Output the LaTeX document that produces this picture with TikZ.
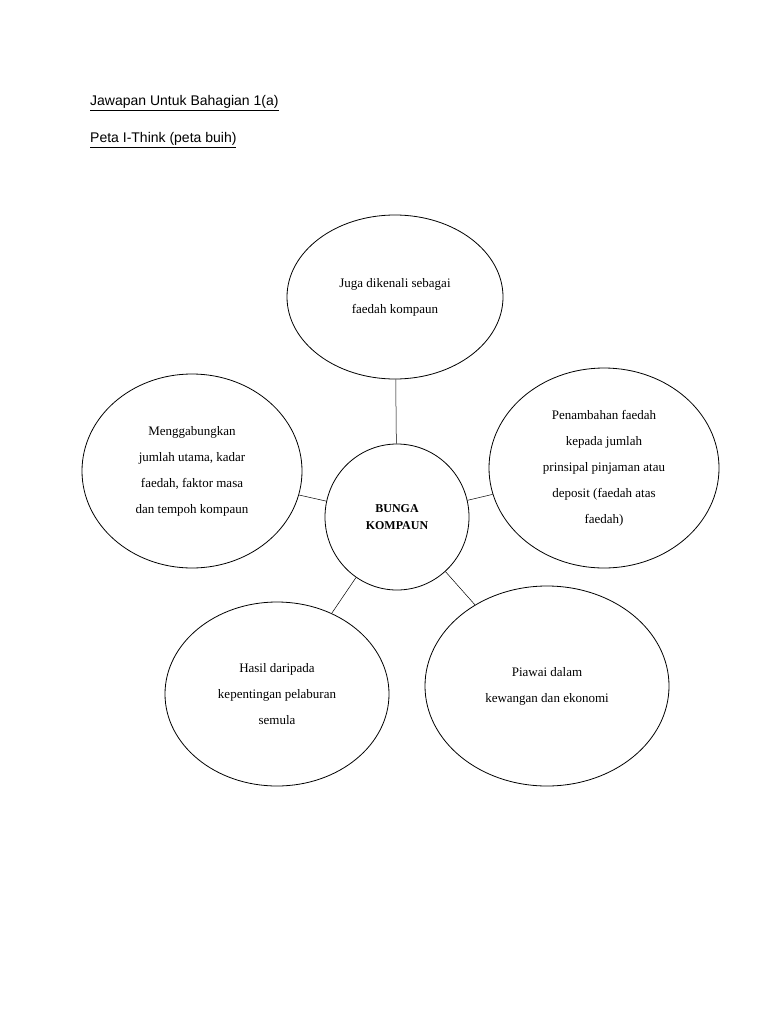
\documentclass[tikz,border=0pt]{standalone}
\usepackage{fontspec}
\setmainfont{Liberation Serif}
\newfontfamily\hd{Liberation Sans}
\usetikzlibrary{shapes.geometric}
\begin{document}
\begin{tikzpicture}[x=1pt,y=-1pt,
  bub/.style={draw,ellipse,line width=0.8pt,inner sep=0pt,align=center,font=\fontsize{13}{26}\selectfont},
  con/.style={draw,line width=0.5pt},
  ttl/.style={anchor=west,font=\hd\fontsize{14}{16}\selectfont,inner sep=0pt}]
\useasboundingbox (0,0) rectangle (768,1024);
\fill[white] (0,0) rectangle (768,1024);
\node[ttl] (t1) at (90,103) {\underline{Jawapan Untuk Bahagian 1(a)}};
\node[ttl] (t2) at (90,140) {\underline{Peta I-Think (peta buih)}};
\node[bub,minimum width=144pt,minimum height=146pt,font=\bfseries\fontsize{12}{17}\selectfont] (c) at (397,517) {BUNGA\\KOMPAUN};
\node[bub,minimum width=216pt,minimum height=164pt] (top) at (395,297) {Juga dikenali sebagai\\faedah kompaun};
\node[bub,minimum width=220pt,minimum height=194pt] (l) at (192,471) {Menggabungkan\\jumlah utama, kadar\\faedah, faktor masa\\dan tempoh kompaun};
\node[bub,minimum width=230pt,minimum height=200pt] (r) at (604,468) {Penambahan faedah\\kepada jumlah\\prinsipal pinjaman atau\\deposit (faedah atas\\faedah)};
\node[bub,minimum width=224pt,minimum height=184pt] (bl) at (277,694) {Hasil daripada\\kepentingan pelaburan\\semula};
\node[bub,minimum width=244pt,minimum height=200pt] (br) at (547,686) {Piawai dalam\\kewangan dan ekonomi};
\draw[con] (c) -- (top);
\draw[con] (c) -- (l);
\draw[con] (c) -- (r);
\draw[con] (c) -- (bl);
\draw[con] (c) -- (br);
\end{tikzpicture}
\end{document}
